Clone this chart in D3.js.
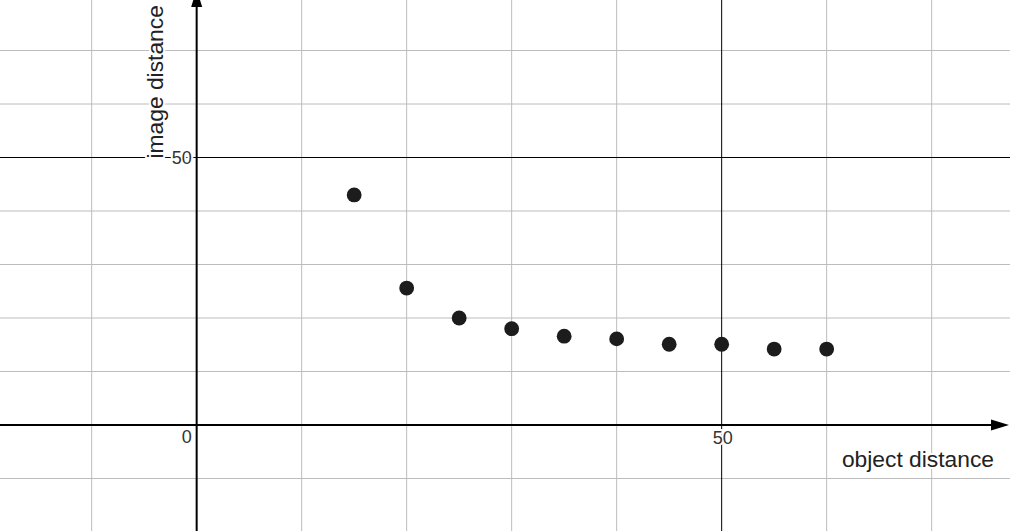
<!DOCTYPE html>
<html>
<head>
<meta charset="utf-8">
<script src="https://cdn.jsdelivr.net/npm/d3@7"></script>
<style>
  html, body { margin: 0; padding: 0; background: #fff; }
  svg { display: block; font-family: Arial, 'Liberation Sans', sans-serif; }
  .minor line { stroke: #bcbcbc; stroke-width: 1; }
  .major line { stroke: #000; stroke-width: 1; }
  .tick-label { font-size: 18px; fill: #333; stroke: #fff; stroke-width: 4; paint-order: stroke; stroke-linejoin: round; }
  .axis-title { font-size: 22.8px; fill: #222; stroke: #fff; stroke-width: 4; paint-order: stroke; stroke-linejoin: round; }
</style>
</head>
<body>
<svg id="plot" width="1010" height="531"></svg>
<script>
// Object distance vs image distance, drawn on a desmos-like grid.
var objectDist = [15, 20, 25, 30, 35, 40, 45, 50, 55, 60];
var imageDist  = [43, 25.6, 20, 18, 16.6, 16.1, 15.1, 15.1, 14.2, 14.2];
var xTickLabels = [0, 50];
var yTickLabels = [50];
var minorStep = 10;
var majorStep = 50;

(function () {
    var W = 1010, H = 531;
    var svg = d3.select('#plot');

    // view window: origin sits at (196.7, 425), 10.5 px per x unit, 5.35 px per y unit
    var x = d3.scaleLinear().domain([-18.73, 77.46]).range([0, W]);
    var y = d3.scaleLinear().domain([-19.81, 79.44]).range([H, 0]);

    function steps(dom, step) {
        var out = [];
        for (var v = Math.ceil(dom[0] / step) * step; v <= dom[1]; v += step) out.push(v);
        return out;
    }

    // Grid: minor every 10, major every 50 (skip axes)
    var minor = svg.append('g').attr('class', 'minor');
    steps(x.domain(), minorStep).forEach(function (v) {
        if (v % majorStep === 0) return;
        minor.append('line').attr('x1', x(v)).attr('x2', x(v)).attr('y1', 0).attr('y2', H);
    });
    steps(y.domain(), minorStep).forEach(function (v) {
        if (v % majorStep === 0) return;
        minor.append('line').attr('y1', y(v)).attr('y2', y(v)).attr('x1', 0).attr('x2', W);
    });
    var major = svg.append('g').attr('class', 'major');
    steps(x.domain(), majorStep).forEach(function (v) {
        if (v === 0) return;
        major.append('line').attr('x1', x(v)).attr('x2', x(v)).attr('y1', 0).attr('y2', H);
    });
    steps(y.domain(), majorStep).forEach(function (v) {
        if (v === 0) return;
        major.append('line').attr('y1', y(v)).attr('y2', y(v)).attr('x1', 0).attr('x2', W);
    });

    // Axes with arrow heads
    var x0 = x(0), y0 = y(0);
    svg.append('line')
        .attr('x1', 0).attr('x2', W - 16)
        .attr('y1', y0).attr('y2', y0)
        .attr('stroke', '#000').attr('stroke-width', 2);
    svg.append('path')
        .attr('d', 'M' + (W - 1) + ',' + y0 + 'L' + (W - 19) + ',' + (y0 - 5.5) + 'L' + (W - 19) + ',' + (y0 + 5.5) + 'Z')
        .attr('fill', '#000');
    svg.append('line')
        .attr('x1', x0).attr('x2', x0)
        .attr('y1', 6).attr('y2', H)
        .attr('stroke', '#000').attr('stroke-width', 2);
    svg.append('path')
        .attr('d', 'M' + x0 + ',-11L' + (x0 - 5.5) + ',7L' + (x0 + 5.5) + ',7Z')
        .attr('fill', '#000');

    // Axis titles
    svg.append('text')
        .attr('class', 'axis-title')
        .attr('x', 994).attr('y', 467)
        .attr('text-anchor', 'end')
        .text('object distance');
    svg.append('text')
        .attr('class', 'axis-title')
        .attr('transform', 'translate(163,158.5) rotate(-90)')
        .attr('text-anchor', 'start')
        .text('image distance');

    // Tick labels
    xTickLabels.forEach(function (v) {
        if (v === 0) {
            svg.append('text').attr('class', 'tick-label')
                .attr('x', x(v) - 5).attr('y', y0 + 18)
                .attr('text-anchor', 'end')
                .text(v);
        } else {
            svg.append('text').attr('class', 'tick-label')
                .attr('x', x(v) + 1).attr('y', y0 + 19)
                .attr('text-anchor', 'middle')
                .text(v);
        }
    });
    yTickLabels.forEach(function (v) {
        svg.append('text').attr('class', 'tick-label')
            .attr('x', x0 - 5).attr('y', y(v) + 6.5)
            .attr('text-anchor', 'end')
            .text(v);
    });

    // Data points
    svg.append('g').selectAll('circle')
        .data(objectDist)
        .enter().append('circle')
        .attr('cx', function (d) { return x(d); })
        .attr('cy', function (d, i) { return y(imageDist[i]); })
        .attr('r', 7.4)
        .attr('fill', '#1c1c1c');
})();
</script>
</body>
</html>
